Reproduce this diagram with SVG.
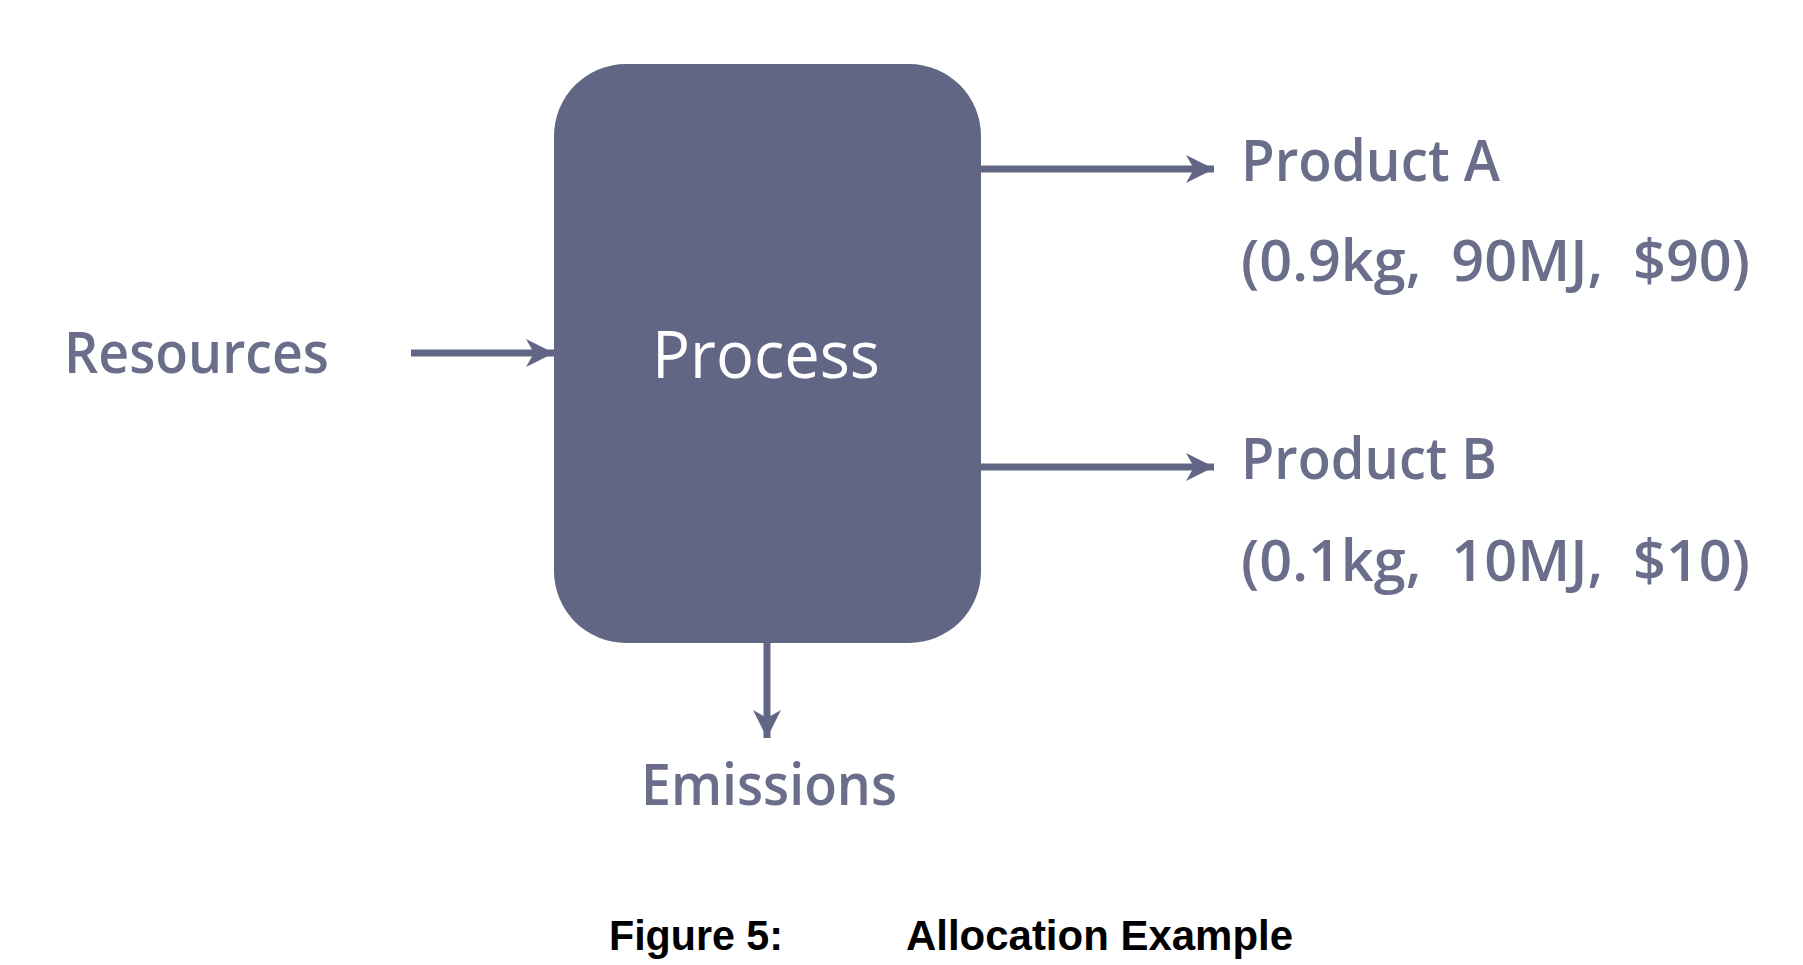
<svg xmlns="http://www.w3.org/2000/svg" width="1803" height="965" viewBox="0 0 1803 965">
<style>
.l{font-family:"Open Sans","Liberation Sans",sans-serif;font-weight:600;fill:#6b6e8a;font-size:58px}
.c{font-family:"Liberation Sans Narrow","Liberation Sans",sans-serif;font-weight:bold;fill:#000;font-size:42px}
.e{stroke:#626685;stroke-width:7;fill:none;marker-end:url(#a)}
</style>
<defs><marker id="a" markerUnits="userSpaceOnUse" markerWidth="34" markerHeight="34" refX="32" refY="17" orient="auto"><path d="M4,3 L32,17 L4,31 L12,17 Z" fill="#626685"/></marker></defs>
<rect width="1803" height="965" fill="#fff"/>
<g id="process"><rect x="554" y="64" width="427" height="579" rx="72" fill="#626685"/>
<text x="766" y="378" text-anchor="middle" style="font-family:'Open Sans','Liberation Sans',sans-serif;font-size:66px;fill:#fff" textLength="228" lengthAdjust="spacingAndGlyphs">Process</text></g>
<g id="resources"><text class="l" x="64" y="373" textLength="265" lengthAdjust="spacingAndGlyphs">Resources</text></g>
<g id="productA"><text class="l" x="1241" y="181" textLength="259" lengthAdjust="spacingAndGlyphs">Product A</text>
<text class="l" x="1241" y="281" textLength="509" lengthAdjust="spacingAndGlyphs" xml:space="preserve">(0.9kg,  90MJ,  $90)</text></g>
<g id="productB"><text class="l" x="1241" y="479" textLength="256" lengthAdjust="spacingAndGlyphs">Product B</text>
<text class="l" x="1241" y="581" textLength="509" lengthAdjust="spacingAndGlyphs" xml:space="preserve">(0.1kg,  10MJ,  $10)</text></g>
<g id="emissions"><text class="l" x="641" y="805" textLength="256" lengthAdjust="spacingAndGlyphs">Emissions</text></g>
<g id="connectors">
<line class="e" x1="411" y1="353" x2="554" y2="353"/>
<line class="e" x1="981" y1="169" x2="1214" y2="169"/>
<line class="e" x1="981" y1="467" x2="1214" y2="467"/>
<line class="e" x1="767" y1="643" x2="767" y2="738"/>
</g>
<g id="caption"><text class="c" x="609" y="950" textLength="174" lengthAdjust="spacingAndGlyphs">Figure 5:</text>
<text class="c" x="906" y="950" textLength="387" lengthAdjust="spacingAndGlyphs">Allocation Example</text></g>
</svg>
